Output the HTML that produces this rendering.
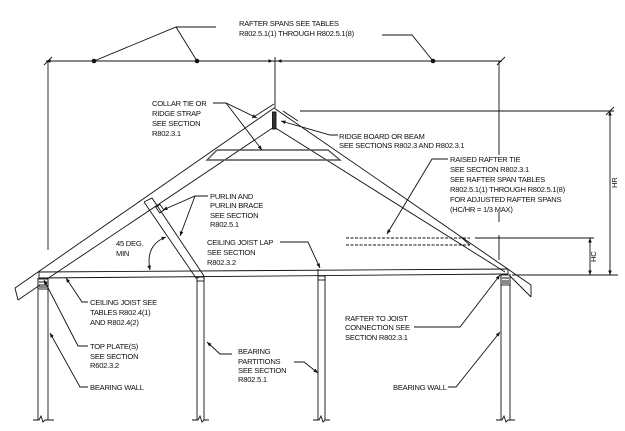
<!DOCTYPE html>
<html><head><meta charset="utf-8"><style>
html,body{margin:0;padding:0;background:#fff}
svg{display:block}
text{font-family:"Liberation Sans",Arial,sans-serif;font-size:7.6px;fill:#111;letter-spacing:-0.25px}
</style></head><body>
<svg width="625" height="431" viewBox="0 0 625 431" xmlns="http://www.w3.org/2000/svg">
<defs>
<marker id="a" viewBox="0 0 10 10" refX="10" refY="5" markerWidth="7" markerHeight="5" orient="auto-start-reverse"><path d="M0,1 L10,5 L0,9 z" fill="#111"/></marker>
</defs>
<g stroke="#111" stroke-width="0.9" fill="none">
<line x1="46" y1="61" x2="502" y2="61" marker-start="url(#a)"/>
<line x1="48" y1="61" x2="273" y2="61" marker-end="url(#a)"/>
<line x1="277" y1="61" x2="500" y2="61" marker-start="url(#a)"/>
<line x1="48" y1="61" x2="48" y2="250"/>
<line x1="275" y1="57" x2="275" y2="108"/>
<line x1="499" y1="61" x2="499" y2="155"/>
<line x1="499" y1="212" x2="499" y2="222"/>
<line x1="499" y1="235" x2="499" y2="260"/>
<line x1="44" y1="65" x2="52" y2="57"/>
<line x1="497" y1="65" x2="505" y2="57"/>
<polyline points="216,27 176,27 94,61"/>
<line x1="176" y1="27" x2="197" y2="61"/>
<polyline points="382,35 412,35 433,61"/>
<line x1="300" y1="111" x2="614" y2="111"/>
<line x1="610" y1="111" x2="610" y2="275" marker-start="url(#a)" marker-end="url(#a)"/>
<line x1="512" y1="275" x2="618" y2="275"/>
<line x1="606" y1="115" x2="614" y2="107"/>
<line x1="475" y1="238" x2="594" y2="238"/>
<line x1="590" y1="238" x2="590" y2="275" marker-start="url(#a)" marker-end="url(#a)"/>
<polyline points="15,288 274,108 531,285"/>
<polyline points="18,300 40,285"/>
<line x1="47" y1="279" x2="274" y2="127"/>
<line x1="274" y1="127" x2="505" y2="272"/>
<line x1="510" y1="276" x2="531" y2="297"/>
<line x1="15" y1="288" x2="18" y2="300"/>
<line x1="531" y1="285" x2="531" y2="297"/>
<line x1="252" y1="118" x2="274" y2="104"/>
<line x1="283" y1="111" x2="298" y2="121"/>
<rect x="272.5" y="112" width="3.5" height="17" fill="#333"/>
<polyline points="217,150 328,150 340,160 207,160 217,150" stroke="#555" stroke-width="1.4"/>
<polyline points="144,202 152,198 204,276 196,278 144,202"/>
<rect x="157" y="205" width="5" height="7" transform="rotate(-35 160 208)"/>
<line x1="39" y1="272" x2="508" y2="269"/>
<line x1="39" y1="278" x2="508" y2="274"/>
<line x1="39" y1="272" x2="39" y2="278"/>
<line x1="508" y1="269" x2="508" y2="274"/>
<line x1="318" y1="269" x2="318" y2="276"/>
<line x1="346" y1="238" x2="470" y2="238" stroke-dasharray="3,1.5"/>
<line x1="346" y1="245" x2="470" y2="245" stroke-dasharray="3,1.5"/>
<line x1="462" y1="238" x2="470" y2="245"/>
<line x1="38" y1="278" x2="38" y2="420"/><line x1="48" y1="278" x2="48" y2="420"/>
<line x1="197" y1="277" x2="197" y2="420"/><line x1="204" y1="277" x2="204" y2="420"/>
<line x1="318" y1="276" x2="318" y2="420"/><line x1="325" y1="276" x2="325" y2="420"/>
<line x1="501" y1="274" x2="501" y2="420"/><line x1="510" y1="274" x2="510" y2="420"/>
<rect x="38" y="279" width="10" height="10"/>
<path d="M39,282 h8 M39,285 h8 M39,287 h8"/>
<rect x="501" y="275" width="9" height="10"/>
<path d="M502,278 h7 M502,281 h7 M502,283 h7"/>
<rect x="197" y="277" width="7" height="4"/>
<rect x="318" y="276" width="7" height="4"/>
<path d="M33,420 h6 l2,-4 l2,6 l2,-2 h9"/>
<path d="M192,420 h6 l2,-4 l2,6 l2,-2 h5"/>
<path d="M313,420 h6 l2,-4 l2,6 l2,-2 h5"/>
<path d="M496,420 h6 l2,-4 l2,6 l2,-2 h7"/>
<path d="M166,237 Q145,245 150,270" marker-start="url(#a)" marker-end="url(#a)"/>
<polyline points="213,103 226,103 257,118" marker-end="url(#a)"/>
<line x1="226" y1="103" x2="262" y2="150" marker-end="url(#a)"/>
<polyline points="338,135 330,135 281,121" marker-end="url(#a)"/>
<polyline points="448,159 432,159 387,234" marker-end="url(#a)"/>
<polyline points="208,196 195,196 163,210" marker-end="url(#a)"/>
<line x1="195" y1="196" x2="180" y2="236" marker-end="url(#a)"/>
<polyline points="280,242 308,242 320,268" marker-end="url(#a)"/>
<polyline points="88,302 82,302 66,278" marker-end="url(#a)"/>
<polyline points="88,346 78,346 44,280" marker-end="url(#a)"/>
<polyline points="88,387 80,387 50,333" marker-end="url(#a)"/>
<polyline points="232,354 220,354 207,342" marker-end="url(#a)"/>
<polyline points="294,362 304,362 318,373" marker-end="url(#a)"/>
<polyline points="414,327 460,327 500,275" marker-end="url(#a)"/>
<polyline points="448,387 456,387 500,332" marker-end="url(#a)"/>
</g>
<g fill="#111">
<circle cx="94" cy="61" r="2.3"/><circle cx="197" cy="61" r="2.3"/><circle cx="433" cy="61" r="2.3"/>
</g>
<text x="239" y="26">RAFTER SPANS SEE TABLES</text>
<text x="239" y="36">R802.5.1(1) THROUGH R802.5.1(8)</text>
<text x="152" y="106">COLLAR TIE OR</text>
<text x="152" y="116">RIDGE STRAP</text>
<text x="152" y="126">SEE SECTION</text>
<text x="152" y="136">R802.3.1</text>
<text x="339" y="139">RIDGE BOARD OR BEAM</text>
<text x="339" y="148">SEE SECTIONS R802.3 AND R802.3.1</text>
<text x="450" y="162">RAISED RAFTER TIE</text>
<text x="450" y="172">SEE SECTION R802.3.1</text>
<text x="450" y="182">SEE RAFTER SPAN TABLES</text>
<text x="450" y="192">R802.5.1(1) THROUGH R802.5.1(8)</text>
<text x="450" y="202">FOR ADJUSTED RAFTER SPANS</text>
<text x="450" y="212">(HC/HR = 1/3 MAX)</text>
<text x="210" y="199">PURLIN AND</text>
<text x="210" y="208">PURLIN BRACE</text>
<text x="210" y="218">SEE SECTION</text>
<text x="210" y="227">R802.5.1</text>
<text x="116" y="246">45 DEG.</text>
<text x="116" y="256">MIN</text>
<text x="207" y="245">CEILING JOIST LAP</text>
<text x="207" y="255">SEE SECTION</text>
<text x="207" y="265">R802.3.2</text>
<text x="90" y="305">CEILING JOIST SEE</text>
<text x="90" y="315">TABLES R802.4(1)</text>
<text x="90" y="325">AND R802.4(2)</text>
<text x="90" y="349">TOP PLATE(S)</text>
<text x="90" y="359">SEE SECTION</text>
<text x="90" y="368">R602.3.2</text>
<text x="90" y="390">BEARING WALL</text>
<text x="238" y="354">BEARING</text>
<text x="238" y="364">PARTITIONS</text>
<text x="238" y="373">SEE SECTION</text>
<text x="238" y="382">R802.5.1</text>
<text x="345" y="321">RAFTER TO JOIST</text>
<text x="345" y="330">CONNECTION SEE</text>
<text x="345" y="340">SECTION R802.3.1</text>
<text x="393" y="390">BEARING WALL</text>
<text transform="translate(617,188) rotate(-90)">HR</text>
<text transform="translate(596,262) rotate(-90)">HC</text>
</svg>
</body></html>
